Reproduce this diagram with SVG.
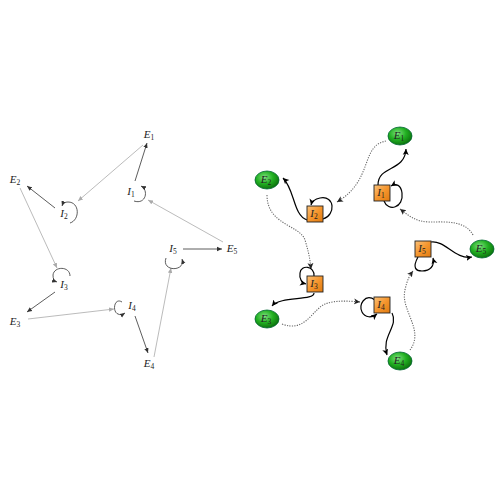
<svg xmlns="http://www.w3.org/2000/svg" width="500" height="500" viewBox="0 0 500 500">
<defs>
<marker id="ad" markerWidth="6" markerHeight="6" refX="5" refY="3" orient="auto" markerUnits="userSpaceOnUse"><path d="M0,0.8 L5,3 L0,5.2 Z" fill="#333"/></marker>
<marker id="ag" markerWidth="6" markerHeight="6" refX="5" refY="3" orient="auto" markerUnits="userSpaceOnUse"><path d="M0,0.8 L5,3 L0,5.2 Z" fill="#aaa"/></marker>
<marker id="ab" markerWidth="8" markerHeight="8" refX="6" refY="4" orient="auto" markerUnits="userSpaceOnUse"><path d="M0,1 L6,4 L0,7 L1.5,4 Z" fill="#000"/></marker>
<marker id="ak" markerWidth="8" markerHeight="8" refX="6" refY="4" orient="auto" markerUnits="userSpaceOnUse"><path d="M0,1 L6,4 L0,7 L1.5,4 Z" fill="#222"/></marker>
<radialGradient id="gg" cx="0.4" cy="0.35" r="0.7"><stop offset="0" stop-color="#7fe07f"/><stop offset="0.5" stop-color="#22b022"/><stop offset="1" stop-color="#0a6a0a"/></radialGradient>
<linearGradient id="og" x1="0" y1="0" x2="1" y2="1"><stop offset="0" stop-color="#fbc27a"/><stop offset="0.5" stop-color="#f5962e"/><stop offset="1" stop-color="#e07a10"/></linearGradient>
<style>
.lbl{font-family:"Liberation Serif",serif;font-style:italic;font-size:11px;fill:#222;text-anchor:middle}
.sub{font-size:7.5px;font-style:normal}
.ld{fill:none;stroke:#333;stroke-width:0.8}
.lg{fill:none;stroke:#aaa;stroke-width:0.8}
.rs{fill:none;stroke:#000;stroke-width:1.2}
.rd{fill:none;stroke:#666;stroke-width:1.1;stroke-dasharray:1.2 1.3}
.ell{fill:url(#gg);stroke:#063;stroke-width:0.8}
.box{fill:url(#og);stroke:#222;stroke-width:0.9}
</style>
</defs>
<g id="connectors">
<!-- left -->
<line class="ld" x1="135" y1="181" x2="147" y2="143" marker-end="url(#ad)"/>
<line class="lg" x1="143" y1="145" x2="78" y2="201" marker-end="url(#ag)"/>
<line class="ld" x1="55" y1="208" x2="27" y2="186" marker-end="url(#ad)"/>
<line class="lg" x1="20" y1="188" x2="57" y2="268" marker-end="url(#ag)"/>
<line class="ld" x1="55" y1="292" x2="27" y2="312" marker-end="url(#ad)"/>
<line class="lg" x1="28" y1="319" x2="114" y2="309" marker-end="url(#ag)"/>
<line class="ld" x1="135" y1="316" x2="148" y2="353" marker-end="url(#ad)"/>
<line class="lg" x1="154" y1="357" x2="171" y2="268" marker-end="url(#ag)"/>
<line class="ld" x1="183" y1="249" x2="222" y2="249" marker-end="url(#ad)"/>
<line class="lg" x1="223" y1="242" x2="148" y2="200" marker-end="url(#ag)"/>
<path class="ld" d="M134,201 C146,205 149,190 141,186" marker-end="url(#ad)"/>
<path class="ld" d="M70,223 C80,220 80,202 68,202 C65,202 63,203 62,206" marker-end="url(#ad)"/>
<path class="ld" d="M70,276 C70,266 54,266 53,275 C53,279 54,281 57,282" marker-end="url(#ad)"/>
<path class="ld" d="M122,302 C114,297 112,312 118,314 C120,315 122,315 125,313" marker-end="url(#ad)"/>
<path class="ld" d="M166,258 C161,272 186,272 182,259" marker-end="url(#ad)"/>
<!-- right -->
<path class="rs" d="M378,185 C378,165 405,172 406,149" marker-end="url(#ab)"/>
<path class="rd" d="M386,141 C360,146 374,180 337,202" marker-end="url(#ak)"/>
<path class="rs" d="M307,220 C293,215 295,190 283,178" marker-end="url(#ab)"/>
<path class="rd" d="M267,195 C267,225 300,225 305,240 C308,250 310,258 311,269" marker-end="url(#ak)"/>
<path class="rs" d="M314,293 C314,301 280,296 272,306" marker-end="url(#ab)"/>
<path class="rd" d="M282,324 C305,333 312,310 325,304 C335,300 350,301 360,302" marker-end="url(#ak)"/>
<path class="rs" d="M392,313 C399,326 381,336 387,355" marker-end="url(#ab)"/>
<path class="rd" d="M410,350 C425,330 400,310 405,290 C407,280 410,275 413,271" marker-end="url(#ak)"/>
<path class="rs" d="M431,242 C445,240 455,260 472,257" marker-end="url(#ab)"/>
<path class="rd" d="M473,235 C465,220 445,222 430,222 C415,222 408,215 400,209" marker-end="url(#ak)"/>
<path class="rs" d="M384,201 C388,212 404,208 402,193 C401,185 396,183 391,186" marker-end="url(#ab)"/>
<path class="rs" d="M323,219 C336,215 335,195 320,198 C315,199 312,201 311,205" marker-end="url(#ab)"/>
<path class="rs" d="M314,276 C315,266 301,264 300,273 C299,279 302,283 306,284" marker-end="url(#ab)"/>
<path class="rs" d="M375,300 C365,293 358,305 362,312 C365,318 372,318 377,314" marker-end="url(#ab)"/>
<path class="rs" d="M418,257 C412,268 416,271 422,271 C430,271 435,266 433,258" marker-end="url(#ab)"/>
</g>
<!-- left nodes -->
<g id="L_E1"><text class="lbl" x="149" y="138">E<tspan class="sub" dy="2">1</tspan></text></g>
<g id="L_I1"><text class="lbl" x="131" y="195">I<tspan class="sub" dy="2">1</tspan></text></g>
<g id="L_E2"><text class="lbl" x="15" y="183">E<tspan class="sub" dy="2">2</tspan></text></g>
<g id="L_I2"><text class="lbl" x="64" y="217">I<tspan class="sub" dy="2">2</tspan></text></g>
<g id="L_I3"><text class="lbl" x="64" y="288">I<tspan class="sub" dy="2">3</tspan></text></g>
<g id="L_E3"><text class="lbl" x="15" y="325">E<tspan class="sub" dy="2">3</tspan></text></g>
<g id="L_I4"><text class="lbl" x="132" y="309">I<tspan class="sub" dy="2">4</tspan></text></g>
<g id="L_E4"><text class="lbl" x="149" y="367">E<tspan class="sub" dy="2">4</tspan></text></g>
<g id="L_I5"><text class="lbl" x="173" y="252">I<tspan class="sub" dy="2">5</tspan></text></g>
<g id="L_E5"><text class="lbl" x="232" y="252">E<tspan class="sub" dy="2">5</tspan></text></g>
<!-- right nodes -->
<g id="R_E1"><ellipse class="ell" cx="400" cy="136" rx="12" ry="9"/><text class="lbl" x="399" y="139">E<tspan class="sub" dy="2">1</tspan></text></g>
<g id="R_I1"><rect class="box" x="374" y="185" width="16" height="16"/><text class="lbl" x="381" y="196">I<tspan class="sub" dy="2">1</tspan></text></g>
<g id="R_E2"><ellipse class="ell" cx="267" cy="180" rx="12" ry="9"/><text class="lbl" x="266" y="183">E<tspan class="sub" dy="2">2</tspan></text></g>
<g id="R_I2"><rect class="box" x="307" y="206" width="16" height="16"/><text class="lbl" x="314" y="217">I<tspan class="sub" dy="2">2</tspan></text></g>
<g id="R_I3"><rect class="box" x="307" y="276" width="16" height="16"/><text class="lbl" x="314" y="287">I<tspan class="sub" dy="2">3</tspan></text></g>
<g id="R_E3"><ellipse class="ell" cx="267" cy="319" rx="12" ry="9"/><text class="lbl" x="266" y="322">E<tspan class="sub" dy="2">3</tspan></text></g>
<g id="R_I4"><rect class="box" x="374" y="297" width="16" height="16"/><text class="lbl" x="381" y="308">I<tspan class="sub" dy="2">4</tspan></text></g>
<g id="R_E4"><ellipse class="ell" cx="400" cy="361" rx="12" ry="9"/><text class="lbl" x="399" y="364">E<tspan class="sub" dy="2">4</tspan></text></g>
<g id="R_I5"><rect class="box" x="415" y="241" width="16" height="16"/><text class="lbl" x="422" y="252">I<tspan class="sub" dy="2">5</tspan></text></g>
<g id="R_E5"><ellipse class="ell" cx="482" cy="249" rx="12" ry="9"/><text class="lbl" x="481" y="252">E<tspan class="sub" dy="2">5</tspan></text></g>
</svg>
